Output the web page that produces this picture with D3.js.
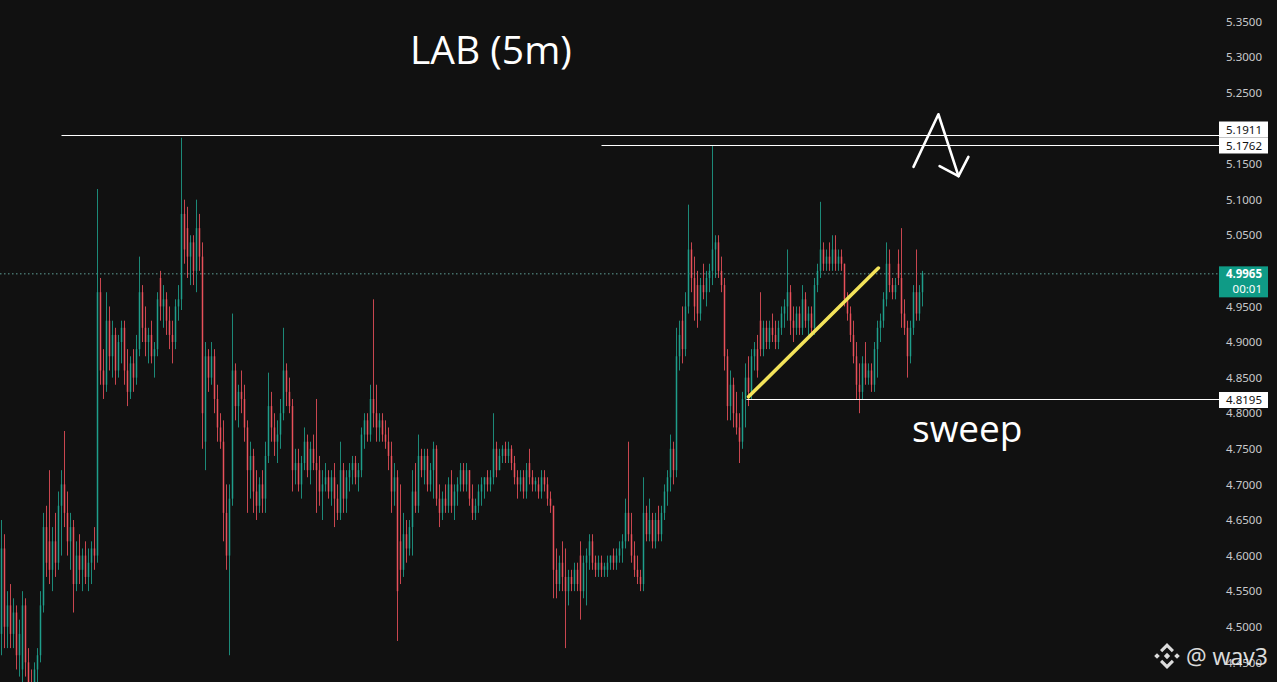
<!DOCTYPE html>
<html><head><meta charset="utf-8">
<script src="https://cdn.jsdelivr.net/npm/d3@7"></script>
<style>html,body{margin:0;padding:0;background:#111111;overflow:hidden}svg{display:block}</style>
</head><body><svg id="c" width="1277" height="682"></svg>
<script>
// ---- DATA (LAB/USDT 5m candles) ----
const opens = [
4.49,4.61,4.50,4.53,4.49,4.52,4.46,4.44,4.53,4.45,
4.41,4.40,4.44,4.46,4.53,4.64,4.62,4.58,4.62,4.59,
4.67,4.70,4.66,4.62,4.64,4.56,4.60,4.58,4.60,4.57,
4.59,4.61,4.60,4.97,4.86,4.84,4.93,4.88,4.91,4.86,
4.90,4.92,4.86,4.83,4.87,4.85,4.89,4.97,4.92,4.90,
4.91,4.88,4.89,4.99,4.95,4.96,4.93,4.91,4.90,4.95,
4.96,5.08,5.06,5.02,5.04,5.00,5.06,5.02,4.76,4.88,
4.85,4.88,4.82,4.78,4.76,4.66,4.60,4.68,4.86,4.81,
4.83,4.82,4.78,4.72,4.74,4.69,4.67,4.70,4.68,4.74,
4.81,4.78,4.76,4.77,4.80,4.86,4.83,4.81,4.72,4.73,
4.70,4.73,4.76,4.72,4.75,4.73,4.72,4.69,4.70,4.71,
4.69,4.71,4.68,4.66,4.72,4.68,4.71,4.72,4.73,4.71,
4.72,4.77,4.79,4.77,4.82,4.80,4.78,4.79,4.77,4.76,
4.74,4.69,4.71,4.62,4.58,4.63,4.61,4.64,4.69,4.67,
4.74,4.72,4.74,4.70,4.72,4.75,4.68,4.66,4.68,4.67,
4.70,4.67,4.69,4.70,4.72,4.70,4.72,4.68,4.66,4.67,
4.69,4.70,4.71,4.70,4.71,4.75,4.72,4.74,4.75,4.74,
4.75,4.73,4.71,4.70,4.71,4.69,4.73,4.71,4.70,4.70,
4.69,4.71,4.70,4.68,4.67,4.58,4.56,4.59,4.57,4.55,
4.57,4.56,4.58,4.60,4.55,4.59,4.60,4.62,4.59,4.58,
4.59,4.58,4.58,4.59,4.60,4.59,4.60,4.61,4.62,4.66,
4.63,4.60,4.58,4.57,4.56,4.66,4.63,4.65,4.62,4.65,
4.63,4.66,4.69,4.71,4.75,4.72,4.88,4.93,4.89,4.95,
5.03,4.99,4.98,4.94,4.98,4.97,4.99,5.00,5.03,5.04,
5.00,4.98,4.88,4.81,4.84,4.80,4.78,4.76,4.82,4.85,
4.83,4.88,4.89,4.93,4.89,4.92,4.90,4.92,4.91,4.90,
4.92,4.94,4.95,4.97,4.93,4.92,4.94,4.92,4.96,4.93,
4.94,4.92,4.98,5.00,5.03,5.01,5.02,5.01,5.03,5.01,
5.02,5.01,4.96,4.94,4.91,4.88,4.84,4.83,4.87,4.85,
4.86,4.84,4.89,4.92,4.93,4.96,5.01,4.98,4.97,5.01,
4.99,4.94,4.92,4.88,4.92,4.97,4.94,4.97];
const highs = [
4.65,4.63,4.55,4.56,4.54,4.53,4.51,4.55,4.54,4.47,
4.44,4.45,4.47,4.55,4.66,4.67,4.72,4.64,4.66,4.69,
4.72,4.775,4.69,4.66,4.65,4.62,4.63,4.61,4.62,4.61,
4.62,4.64,5.115,4.99,4.89,4.97,4.95,4.93,4.92,4.91,
4.93,4.93,4.89,4.88,4.89,4.91,5.02,4.98,4.95,4.92,
4.93,4.90,4.97,5.00,4.98,4.97,4.95,4.93,4.96,4.98,
5.187,5.10,5.09,5.05,5.05,5.10,5.08,5.04,4.90,4.89,
4.90,4.89,4.84,4.80,4.79,4.70,4.70,4.94,4.87,4.84,
4.86,4.84,4.79,4.76,4.75,4.72,4.71,4.72,4.76,4.857,
4.83,4.80,4.79,4.82,4.92,4.87,4.85,4.82,4.75,4.75,
4.74,4.78,4.77,4.76,4.77,4.82,4.74,4.72,4.73,4.72,
4.72,4.73,4.70,4.76,4.73,4.72,4.73,4.74,4.74,4.73,
4.78,4.80,4.80,4.84,4.96,4.84,4.80,4.80,4.79,4.78,
4.76,4.73,4.72,4.70,4.66,4.65,4.65,4.72,4.73,4.77,
4.75,4.75,4.75,4.73,4.76,4.755,4.70,4.69,4.70,4.71,
4.72,4.70,4.71,4.73,4.73,4.73,4.72,4.70,4.68,4.70,
4.71,4.71,4.72,4.72,4.80,4.76,4.75,4.755,4.76,4.76,
4.755,4.74,4.72,4.72,4.72,4.73,4.75,4.72,4.71,4.71,
4.72,4.72,4.71,4.69,4.67,4.61,4.60,4.62,4.61,4.58,
4.58,4.59,4.59,4.62,4.60,4.61,4.63,4.63,4.60,4.60,
4.60,4.59,4.60,4.60,4.61,4.61,4.62,4.63,4.68,4.76,
4.66,4.62,4.60,4.58,4.71,4.67,4.68,4.66,4.66,4.67,
4.67,4.70,4.72,4.77,4.76,4.92,4.93,4.95,4.97,5.093,
5.04,5.02,5.00,4.99,5.01,5.00,5.01,5.176,5.05,5.05,
5.02,4.99,4.89,4.86,4.85,4.83,4.80,4.83,4.87,4.88,
4.89,4.90,4.91,4.97,4.93,4.93,4.93,4.94,4.93,4.93,
4.95,4.96,5.03,4.98,4.95,4.95,4.95,4.98,4.97,4.95,
4.95,4.99,5.01,5.097,5.04,5.03,5.04,5.05,5.05,5.03,
5.03,5.01,4.97,4.95,4.93,4.90,4.87,4.88,4.90,4.87,
4.87,4.90,4.93,4.94,4.97,5.04,5.03,4.99,4.99,5.03,
5.06,4.96,4.93,4.93,4.98,5.03,4.98,5.00];
const lows = [
4.46,4.47,4.47,4.47,4.47,4.44,4.43,4.42,4.43,4.39,
4.38,4.39,4.41,4.45,4.52,4.57,4.56,4.55,4.57,4.58,
4.60,4.64,4.60,4.58,4.52,4.55,4.56,4.55,4.56,4.55,
4.56,4.58,4.59,4.84,4.82,4.83,4.86,4.85,4.84,4.85,
4.87,4.84,4.81,4.82,4.83,4.84,4.88,4.90,4.88,4.87,
4.87,4.85,4.88,4.93,4.92,4.91,4.89,4.87,4.89,4.93,
4.945,5.01,4.99,4.98,4.98,4.97,5.00,4.75,4.72,4.83,
4.84,4.80,4.76,4.75,4.62,4.58,4.46,4.67,4.79,4.78,
4.80,4.76,4.66,4.68,4.66,4.65,4.66,4.66,4.66,4.73,
4.76,4.74,4.73,4.75,4.79,4.81,4.80,4.69,4.70,4.69,
4.68,4.72,4.71,4.70,4.72,4.66,4.67,4.65,4.69,4.68,
4.67,4.64,4.65,4.65,4.66,4.66,4.69,4.70,4.70,4.69,
4.71,4.75,4.76,4.76,4.78,4.76,4.76,4.76,4.75,4.72,
4.66,4.67,4.48,4.56,4.57,4.59,4.60,4.60,4.66,4.66,
4.71,4.70,4.69,4.69,4.68,4.67,4.64,4.65,4.66,4.66,
4.66,4.65,4.67,4.69,4.69,4.69,4.67,4.65,4.65,4.66,
4.67,4.68,4.69,4.69,4.70,4.71,4.72,4.73,4.73,4.73,
4.72,4.70,4.68,4.69,4.68,4.68,4.70,4.69,4.69,4.68,
4.68,4.69,4.67,4.66,4.54,4.54,4.55,4.55,4.47,4.53,
4.55,4.55,4.55,4.51,4.54,4.53,4.58,4.58,4.57,4.57,
4.57,4.57,4.57,4.58,4.58,4.58,4.59,4.59,4.61,4.62,
4.59,4.57,4.56,4.55,4.55,4.62,4.62,4.61,4.61,4.62,
4.62,4.65,4.67,4.69,4.70,4.71,4.86,4.87,4.88,4.94,
4.97,4.93,4.92,4.93,4.96,4.95,4.97,4.98,4.99,4.99,
4.97,4.86,4.79,4.79,4.78,4.77,4.73,4.75,4.78,4.81,
4.82,4.86,4.85,4.88,4.88,4.89,4.89,4.90,4.89,4.89,
4.91,4.92,4.93,4.91,4.90,4.91,4.91,4.91,4.92,4.91,
4.91,4.91,4.97,4.99,5.00,5.00,5.00,5.00,5.00,5.00,
5.00,4.95,4.93,4.90,4.87,4.82,4.80,4.82,4.84,4.84,
4.83,4.83,4.85,4.90,4.92,4.95,4.97,4.96,4.96,4.98,
4.92,4.91,4.85,4.87,4.91,4.93,4.93,4.95];
const closes = [
4.61,4.50,4.53,4.49,4.52,4.46,4.49,4.53,4.45,4.41,
4.40,4.44,4.46,4.53,4.64,4.59,4.58,4.62,4.59,4.67,
4.70,4.66,4.62,4.64,4.56,4.60,4.58,4.60,4.57,4.59,
4.61,4.60,4.97,4.86,4.84,4.93,4.88,4.91,4.86,4.90,
4.92,4.86,4.83,4.87,4.85,4.89,4.97,4.92,4.90,4.91,
4.88,4.89,4.96,4.95,4.96,4.93,4.91,4.90,4.95,4.96,
5.08,5.03,5.02,5.04,5.00,5.06,5.02,4.80,4.88,4.85,
4.88,4.82,4.78,4.76,4.66,4.60,4.68,4.86,4.81,4.83,
4.82,4.78,4.72,4.74,4.69,4.67,4.70,4.68,4.74,4.81,
4.78,4.76,4.77,4.80,4.86,4.83,4.81,4.72,4.73,4.70,
4.73,4.76,4.72,4.75,4.73,4.72,4.69,4.70,4.71,4.69,
4.71,4.68,4.66,4.72,4.68,4.71,4.72,4.73,4.71,4.72,
4.77,4.79,4.77,4.82,4.80,4.78,4.79,4.77,4.76,4.74,
4.69,4.71,4.55,4.58,4.63,4.61,4.64,4.69,4.67,4.74,
4.72,4.74,4.70,4.72,4.75,4.68,4.66,4.68,4.67,4.70,
4.67,4.69,4.70,4.72,4.70,4.72,4.68,4.66,4.67,4.69,
4.70,4.71,4.70,4.71,4.75,4.72,4.74,4.75,4.74,4.75,
4.73,4.71,4.70,4.71,4.69,4.72,4.71,4.70,4.705,4.69,
4.71,4.70,4.68,4.67,4.58,4.56,4.59,4.57,4.55,4.57,
4.56,4.58,4.56,4.55,4.59,4.60,4.62,4.59,4.58,4.59,
4.58,4.585,4.59,4.60,4.59,4.60,4.61,4.62,4.66,4.63,
4.60,4.58,4.57,4.56,4.66,4.63,4.65,4.62,4.65,4.63,
4.66,4.69,4.71,4.75,4.72,4.88,4.91,4.89,4.95,5.03,
4.99,4.95,4.94,4.98,4.97,4.99,5.00,5.03,5.04,5.00,
4.98,4.88,4.81,4.84,4.80,4.78,4.76,4.82,4.85,4.83,
4.88,4.89,4.86,4.89,4.92,4.90,4.92,4.91,4.90,4.92,
4.94,4.95,4.97,4.93,4.92,4.94,4.92,4.96,4.93,4.94,
4.92,4.98,5.00,5.03,5.01,5.02,5.01,5.03,5.01,5.02,
5.01,4.96,4.94,4.91,4.88,4.84,4.83,4.87,4.85,4.86,
4.84,4.89,4.92,4.93,4.96,5.01,4.98,4.97,4.98,4.99,
4.94,4.92,4.88,4.92,4.97,4.94,4.97,4.9965];

// visible price-axis labels (5.0000 is hidden behind the last-price tag in the reference)
const tickValues = [5.35,5.30,5.25,5.20,5.15,5.10,5.05,4.95,4.90,4.85,4.80,4.75,4.70,4.65,4.60,4.55,4.50,4.45];
const levelPrices = [5.1911, 5.1762, 4.8195];
const levelStartIndex = [20, 200, 248.3];
const lastPrice = 4.9965;
const countdown = "00:01";
const trendIdx = [249, 292.3];
const trendPrice = [4.823, 5.004];
const arrowIdx = [304, 312.3, 319];
const arrowPrice = [5.146, 5.220, 5.133];
const arrowHeadIdx = [312.7, 319, 322.3];
const arrowHeadPrice = [5.147, 5.133, 5.160];
const title = "LAB (5m)";
const note = "sweep";
const watermark = "@ wav3";

// ---- DRAW ----
const W = 1277, H = 682;
const N = closes.length;
const svg = d3.select("#c");
svg.append("rect").attr("width", W).attr("height", H).attr("fill", "#111111");

const x = d3.scaleLinear().domain([0, N - 1]).range([1.5, 1.5 + 3 * (N - 1)]);
const y = d3.scaleLinear().domain([4.4224, 5.3805]).range([H, 0]);
const up = "#1f9e8b", down = "#e8505a";
const fmt = d3.format(".4f");

// price axis labels
const axisG = svg.append("g").attr("transform", "translate(1262,0)");
const axis = d3.axisRight(y).tickValues(tickValues).tickFormat(fmt).tickSize(0).tickPadding(0);
axisG.call(axis);
axisG.select(".domain").remove();
axisG.selectAll("text").attr("text-anchor", "end").attr("fill", "#c9cacc")
  .attr("font-family", "'Noto Sans', 'Open Sans', sans-serif").attr("font-size", 11.5);

// last price dotted line
svg.append("line").attr("x1", 0).attr("x2", 1219).attr("y1", y(lastPrice) + 0.5).attr("y2", y(lastPrice) + 0.5)
  .attr("stroke", "#5f9f95").attr("stroke-width", 1).attr("stroke-dasharray", "1.5,2.5");

// candles
const cg = svg.append("g");
const idx = d3.range(N);
cg.selectAll("line.w").data(idx).join("line").attr("class", "w")
  .attr("x1", i => x(i)).attr("x2", i => x(i))
  .attr("y1", i => y(highs[i])).attr("y2", i => y(lows[i]))
  .attr("stroke", i => closes[i] >= opens[i] ? up : down).attr("stroke-width", 1).attr("opacity", 0.85);
cg.selectAll("rect.b").data(idx).join("rect").attr("class", "b")
  .attr("x", i => x(i) - 0.75).attr("width", 1.5)
  .attr("y", i => y(Math.max(opens[i], closes[i])))
  .attr("height", i => Math.max(1, Math.abs(y(opens[i]) - y(closes[i]))))
  .attr("fill", i => closes[i] >= opens[i] ? up : down);

// horizontal levels
svg.selectAll("line.lvl").data(levelPrices).join("line").attr("class", "lvl")
  .attr("x1", (d, k) => x(levelStartIndex[k])).attr("x2", 1219)
  .attr("y1", d => Math.round(y(d)) + 0.5).attr("y2", d => Math.round(y(d)) + 0.5)
  .attr("stroke", "#ffffff").attr("stroke-width", 1.2);

// level label boxes
const boxY = [121.5, 137.5, 392];
levelPrices.forEach((p, k) => {
  svg.append("rect").attr("x", 1219).attr("y", boxY[k]).attr("width", 49).attr("height", 16).attr("fill", "#ffffff");
  svg.append("text").attr("x", 1262).attr("y", boxY[k] + 8).attr("dy", "0.35em").attr("text-anchor", "end")
    .attr("fill", "#111").attr("font-family", "'Noto Sans', sans-serif").attr("font-size", 11.5).text(fmt(p));
});

// last price box
const ly = y(lastPrice);
svg.append("rect").attr("x", 1219).attr("y", ly - 7).attr("width", 49).attr("height", 31).attr("fill", "#0f9b86");
svg.append("text").attr("x", 1262).attr("y", ly + 1).attr("dy", "0.35em").attr("text-anchor", "end")
  .attr("fill", "#fff").attr("font-weight", "bold").attr("font-family", "'Noto Sans', sans-serif").attr("font-size", 11.5).text(fmt(lastPrice));
svg.append("text").attr("x", 1262).attr("y", ly + 16).attr("dy", "0.35em").attr("text-anchor", "end")
  .attr("fill", "#fff").attr("font-family", "'Noto Sans', sans-serif").attr("font-size", 11.5).text(countdown);

// yellow trend line
svg.append("line").attr("x1", x(trendIdx[0])).attr("y1", y(trendPrice[0]))
  .attr("x2", x(trendIdx[1])).attr("y2", y(trendPrice[1]))
  .attr("stroke", "#f3e35a").attr("stroke-width", 3.5).attr("stroke-linecap", "round");

// hand-drawn arrow
const ln = d3.line().x(d => x(d[0])).y(d => y(d[1]));
svg.append("path").attr("d", ln(arrowIdx.map((v, k) => [v, arrowPrice[k]])))
  .attr("fill", "none").attr("stroke", "#fff").attr("stroke-width", 2.6).attr("stroke-linecap", "round").attr("stroke-linejoin", "round");
svg.append("path").attr("d", ln(arrowHeadIdx.map((v, k) => [v, arrowHeadPrice[k]])))
  .attr("fill", "none").attr("stroke", "#fff").attr("stroke-width", 2.6).attr("stroke-linecap", "round").attr("stroke-linejoin", "round");

// title and note
svg.append("text").attr("x", 410).attr("y", 64).attr("fill", "#fff").attr("font-weight", 500)
  .attr("font-family", "'Open Sans', 'Noto Sans', sans-serif").attr("font-size", 39).text(title);
svg.append("text").attr("x", 912).attr("y", 442).attr("fill", "#fff").attr("font-weight", 500)
  .attr("font-family", "'Open Sans', 'Noto Sans', sans-serif").attr("font-size", 37).text(note);

// watermark (Binance-style logo + handle)
const wm = svg.append("g").attr("transform", "translate(1167,656)").attr("fill", "#f2f2f2").attr("opacity", 0.9);
const dia = (cx, cy, r) => `M${cx},${cy - r}L${cx + r},${cy}L${cx},${cy + r}L${cx - r},${cy}Z`;
wm.append("path").attr("d", dia(0, 0, 3.2));
wm.append("path").attr("d", dia(-10, 0, 2.8));
wm.append("path").attr("d", dia(10, 0, 2.8));
wm.append("path").attr("d", "M0,-13L7,-6L4.8,-3.8L0,-8.6L-4.8,-3.8L-7,-6Z");
wm.append("path").attr("d", "M0,13L7,6L4.8,3.8L0,8.6L-4.8,3.8L-7,6Z");
svg.append("text").attr("x", 1186).attr("y", 665).attr("fill", "#f2f2f2").attr("opacity", 0.9)
  .attr("font-family", "'Open Sans', 'Noto Sans', sans-serif").attr("font-size", 23).text(watermark);
</script></body></html>
